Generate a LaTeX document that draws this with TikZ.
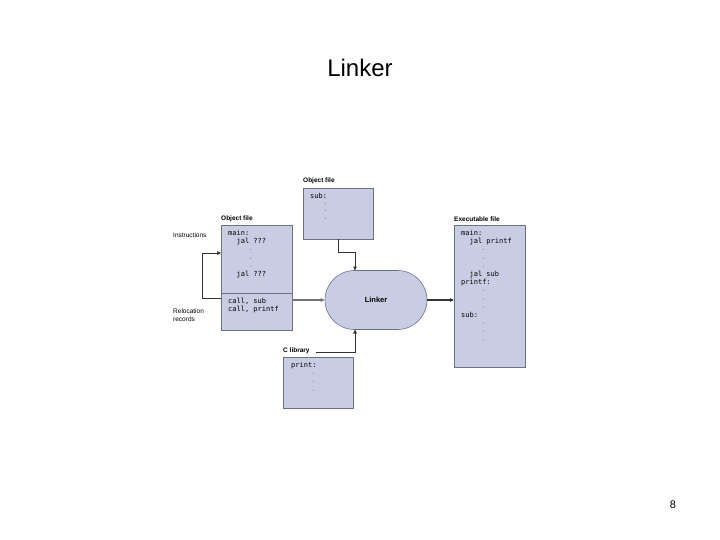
\documentclass[tikz,border=0pt]{standalone}
\usepackage{fontspec}
\setmainfont{Liberation Sans}
\setmonofont{DejaVu Sans Mono}
\usetikzlibrary{arrows.meta}
\definecolor{boxfill}{HTML}{C9CDE3}
\definecolor{boxline}{HTML}{6E7180}
\begin{document}
\begin{tikzpicture}[x=1pt,y=-1pt,
  filebox/.style={draw=boxline,fill=boxfill,line width=0.6pt},
  lbl/.style={font=\bfseries\fontsize{6.5}{7}\selectfont,anchor=south west,inner sep=0pt},
  side/.style={font=\fontsize{6.5}{7.5}\selectfont,align=left,anchor=west,inner sep=0pt},
  code/.style={font=\ttfamily\fontsize{7}{8.2}\selectfont,align=left,anchor=north west,inner sep=0pt},
  conn/.style={draw=black!80,line width=0.7pt,-{Triangle[length=4pt,width=3.5pt]}}]
\useasboundingbox (0,0) rectangle (720,540);
\node at (360,68) {\fontsize{24}{28}\selectfont Linker};
\node at (673,505) {\fontsize{11}{13}\selectfont 8};
% top object file
\draw[filebox] (303,188) rectangle (373,239);
\node[lbl] (lobj1) at (303,184) {Object file};
\node[code] at (310,193) {sub:\\[-1pt]\ \ \ \,$\cdot$\\[-1pt]\ \ \ \,$\cdot$\\[-1pt]\ \ \ \,$\cdot$};
\coordinate (o1b) at (338,239);
% left object file
\draw[filebox] (221,225) rectangle (292,330);
\draw[boxline,line width=0.6pt] (221,293) -- (292,293);
\node[lbl] at (221,222) {Object file};
\node[code] at (228,230) {main:\\\ \ jal ???\\\ \ \ \ \ $\cdot$\\\ \ \ \ \ $\cdot$\\\ \ \ \ \ $\cdot$\\\ \ jal ???};
\node[code] at (228,298) {call, sub\\call, printf};
\node[side] at (173,235) {Instructions};
\node[side] at (173,315) {Relocation\\records};
% linker
\node[filebox,rounded corners=29.5pt,minimum width=102pt,minimum height=59pt,inner sep=0pt,font=\bfseries\fontsize{7.5}{9}\selectfont] (linker) at (376,300) {Linker};
% exe file
\draw[filebox] (454,225) rectangle (525,367);
\node[lbl] at (454,222) {Executable file};
\node[code] at (461,230) {main:\\\ \ jal printf\\\ \ \ \ \ $\cdot$\\\ \ \ \ \ $\cdot$\\\ \ \ \ \ $\cdot$\\\ \ jal sub\\printf:\\\ \ \ \ \ $\cdot$\\\ \ \ \ \ $\cdot$\\\ \ \ \ \ $\cdot$\\sub:\\\ \ \ \ \ $\cdot$\\\ \ \ \ \ $\cdot$\\\ \ \ \ \ $\cdot$};
% C library
\draw[filebox] (283,357) rectangle (353,408);
\node[lbl] (clib) at (283,354) {C library};
\node[code] at (291,362) {print:\\\ \ \ \ \ $\cdot$\\\ \ \ \ \ $\cdot$\\\ \ \ \ \ $\cdot$};
% connectors
\coordinate (ltop) at (355,270.5);
\coordinate (lbot) at (355,329.5);
\draw[conn] (o1b) -- (338,252) -- (355,252) -- (ltop);
\draw[conn] (316,352) -- (355,352) -- (lbot);
\coordinate (objr) at (292,300);
\draw[conn,draw=black!55,line width=1.4pt] (objr) -- (linker.west);
\coordinate (exel) at (454,300);
\draw[conn,line width=1.2pt] (linker.east) -- (exel);
\draw[conn] (221,298) -- (202,298) -- (202,253) -- (221,253);
\end{tikzpicture}
\end{document}
